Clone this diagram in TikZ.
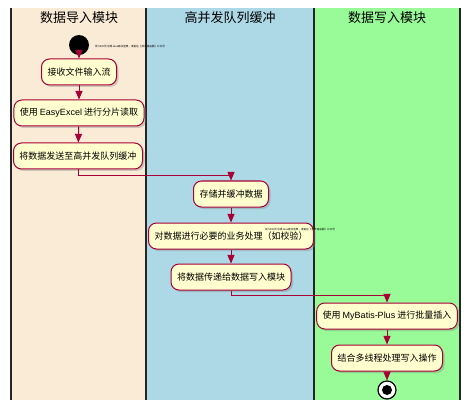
\documentclass[tikz,border=0pt]{standalone}
\usepackage{fontspec}
\setmainfont{Noto Sans CJK SC}
\newfontfamily\latinsf{Liberation Sans}
\usetikzlibrary{arrows,shadows}

\definecolor{laneA}{HTML}{FAEBD7}
\definecolor{laneB}{HTML}{ADD8E6}
\definecolor{laneC}{HTML}{98FB98}
\definecolor{actfill}{HTML}{FEFECE}
\definecolor{actline}{HTML}{A80036}

\begin{document}
\begin{tikzpicture}[x=1pt,y=-1pt,>=triangle 45,
    act/.style={draw=actline,fill=actfill,line width=1pt,rounded corners=8pt,
      inner sep=6pt,minimum height=26pt,font=\fontsize{9pt}{10pt}\selectfont,
      drop shadow={opacity=0.35,shadow xshift=2pt,shadow yshift=-2pt}},
    flow/.style={->,draw=actline,line width=1pt},
    lanetitle/.style={font=\fontsize{13pt}{14pt}\selectfont},
    tiny/.style={font=\fontsize{2.6pt}{3pt}\selectfont,anchor=west,inner sep=0pt}]
  \useasboundingbox (0,0) rectangle (474,409);
  % lanes
  \fill[laneA] (11,8) rectangle (146,400);
  \fill[laneB] (146,8) rectangle (314,400);
  \fill[laneC] (314,8) rectangle (460,400);
  \foreach \x in {11,146,314,460}
    \draw[line width=1.6pt,black!85] (\x,8) -- (\x,400);
  \node[lanetitle] (titleA) at (79,18)  {数据导入模块};
  \node[lanetitle] (titleB) at (230,18) {高并发队列缓冲};
  \node[lanetitle] (titleC) at (387,18) {数据写入模块};
  % start
  \node[circle,fill=black,minimum size=20pt,inner sep=0pt] (start) at (79,45) {};
  \node[tiny] (markA) at (95,47) {领 5000页 尼恩Java面试宝典，请前往《技术自由圈》公众号};
  % actions
  \node[act] (recv)  at (79,72)   {接收文件输入流};
  \node[act] (split) at (79,113)  {使用 {\latinsf EasyExcel} 进行分片读取};
  \node[act] (send)  at (78,156)  {将数据发送至高并发队列缓冲};
  \node[act] (store) at (231,194) {存储并缓冲数据};
  \node[act] (check) at (231,236) {对数据进行必要的业务处理（如校验）};
  \node[tiny] (markB) at (265,230) {领 5000页 尼恩Java面试宝典，请前往《技术自由圈》公众号};
  \node[act] (pass)  at (231,277) {将数据传递给数据写入模块};
  \node[act] (batch) at (387,316) {使用 {\latinsf MyBatis-Plus} 进行批量插入};
  \node[act] (multi) at (387,358) {结合多线程处理写入操作};
  % end
  \node[circle,draw=black,fill=white,line width=1.2pt,minimum size=18pt,inner sep=0pt] (stop) at (387,390) {};
  \fill[black] (stop.center) circle (5pt);
  % connectors
  \draw[flow] (start) -- (recv);
  \draw[flow] (recv) -- (split);
  \draw[flow] (split) -- (send);
  \draw[flow] (send.south) -- ++(0,6) -| (store.north);
  \draw[flow] (store) -- (check);
  \draw[flow] (check) -- (pass);
  \draw[flow] (pass.south) -- ++(0,5) -| (batch.north);
  \draw[flow] (batch) -- (multi);
  \draw[flow] (multi) -- (stop);
\end{tikzpicture}
\end{document}
